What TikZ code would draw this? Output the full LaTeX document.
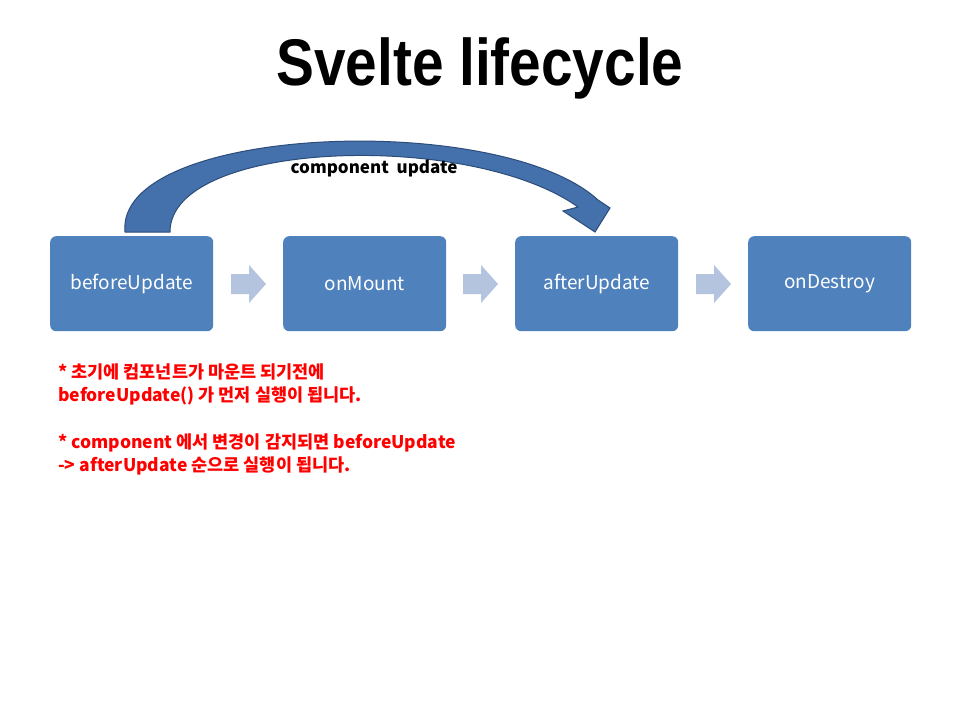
\documentclass[tikz,border=0pt]{standalone}
\usepackage{fontspec}
\setmainfont{Noto Sans CJK KR}
\newfontfamily\titlefont{Liberation Sans}
\begin{document}
\begin{tikzpicture}[x=1pt,y=-1pt,
  stage/.style={draw=none,fill=boxblue,rounded corners=6pt,minimum width=163pt,minimum height=95pt,text=white,font=\fontsize{19}{22}\selectfont,anchor=north west},
  small/.style={fill=arrowblue,draw=none},
  note/.style={text=red,font=\bfseries\fontsize{17.5}{23}\selectfont,anchor=north west,align=left,inner sep=0pt}]
\definecolor{boxblue}{HTML}{4F81BD}
\definecolor{arrowblue}{HTML}{B4C4DF}
\definecolor{bigblue}{HTML}{4470AB}
\definecolor{bigedge}{HTML}{2C4D7A}
\useasboundingbox (0,0) rectangle (960,720);
\fill[white] (0,0) rectangle (960,720);
\node[font=\titlefont\bfseries\fontsize{66}{70}\selectfont,xscale=0.86] (title) at (480,68) {Svelte lifecycle};
\node[stage] (b1) at (50,236) {beforeUpdate};
\node[stage] (b2) at (283,236) {onMount};
\node[stage] (b3) at (515,236) {afterUpdate};
\node[stage] (b4) at (748,236) {onDestroy};
\foreach \x in {231,463,696}{
  \fill[small] (\x,274) -- (\x+18,274) -- (\x+18,265) -- (\x+35,284) -- (\x+18,303) -- (\x+18,294) -- (\x,294) -- cycle;}
\filldraw[fill=bigblue,draw=bigedge,line width=1pt]
  (125,232) .. controls (115,125) and (500,110) .. (598,200)
  -- (610,208) -- (595,232) -- (563,211) -- (578,207)
  .. controls (470,130) and (170,140) .. (170,232) -- cycle;
\node[font=\bfseries\fontsize{17}{20}\selectfont] (lab) at (374,168) {component\ \ update};
\node[note] (n1) at (58,364) {* 초기에 컴포넌트가 마운트 되기전에\\beforeUpdate() 가 먼저 실행이 됩니다.};
\node[note] (n2) at (58,434) {* component 에서 변경이 감지되면 beforeUpdate\\-> afterUpdate 순으로 실행이 됩니다.};
\end{tikzpicture}
\end{document}
